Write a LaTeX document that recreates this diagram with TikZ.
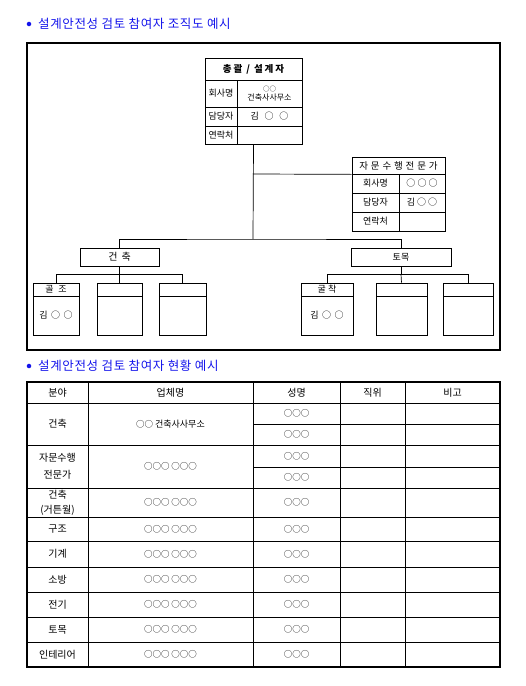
\documentclass[tikz,border=0pt]{standalone}
\usepackage{fontspec}
\setmainfont{Noto Sans CJK KR}
\usetikzlibrary{positioning,calc}
\definecolor{TitleBlue}{RGB}{20,20,235}
\newcommand{\spaced}[1]{\addfontfeature{LetterSpace=#1}}

\begin{document}
\begin{tikzpicture}[x=1pt,y=-1pt,
      font=\fontsize{9}{10}\selectfont,
      cellbox/.style={draw,line width=0.7pt,inner sep=0pt,align=center},
      txt/.style={inner sep=0pt,align=center,font=\fontsize{10}{17}\selectfont},
      circ/.style={inner sep=0pt,font=\fontsize{8.5}{10}\selectfont},
      title/.style={anchor=west,inner sep=0pt,text=TitleBlue,font=\fontsize{12.5}{14}\selectfont\spaced{5}},
      link/.style={line width=0.7pt}
    ]
      \useasboundingbox (0,0) rectangle (526,686);

      % --- organisation chart
      \node[circle,fill=TitleBlue,inner sep=1.6pt] (dot1) at (29,24) {};
      \node[title] (title1) at (38,24) {설계안전성\ 검토\ 참여자\ 조직도\ 예시};
      \draw[line width=1.1pt] (27,43) rectangle (500,350);

      \node[cellbox,minimum width=97pt,minimum height=22pt,font=\fontsize{9.5}{10}\selectfont\bfseries\spaced{20}] (hd) at (253.5,69) {총괄 / 설계자};
      \node[cellbox,minimum width=32pt,minimum height=27pt] (firm) at (221,93.5) {회사명};
      \node[cellbox,minimum width=65pt,minimum height=27pt,font=\fontsize{8}{8.5}\selectfont] (firmv) at (269.5,93.5) {{\fontsize{6.5}{7}\selectfont ○○}\\건축사사무소};
      \node[cellbox,minimum width=32pt,minimum height=19pt] (mgr) at (221,116.5) {담당자};
      \node[cellbox,minimum width=65pt,minimum height=19pt,font=\fontsize{9}{10}\selectfont\spaced{40}] (mgrv) at (269.5,116.5) {김 ○ ○};
      \node[cellbox,minimum width=32pt,minimum height=18pt] (tel) at (221,135) {연락처};
      \node[cellbox,minimum width=65pt,minimum height=18pt] (telv) at (269.5,135) {};

      \node[cellbox,minimum width=93pt,minimum height=17pt,font=\fontsize{9.5}{10}\selectfont\spaced{30}] (adv) at (398.5,165.5) {자문수행전문가};
      \node[cellbox,minimum width=47pt,minimum height=19pt] (advfirm) at (375.5,183.5) {회사명};
      \node[cellbox,minimum width=46pt,minimum height=19pt] (advfirmv) at (422,183.5) {○ ○ ○};
      \node[cellbox,minimum width=47pt,minimum height=19pt] (advmgr) at (375.5,202.5) {담당자};
      \node[cellbox,minimum width=46pt,minimum height=19pt] (advmgrv) at (422,202.5) {김 ○ ○};
      \node[cellbox,minimum width=47pt,minimum height=19pt] (advtel) at (375.5,221.5) {연락처};
      \node[cellbox,minimum width=46pt,minimum height=19pt] (advtelv) at (422,221.5) {};

      \node[cellbox,minimum width=79pt,minimum height=18pt,font=\fontsize{10}{10}\selectfont\spaced{40}] (arch) at (119.5,257) {건축};
      \node[cellbox,minimum width=100pt,minimum height=18pt] (civ) at (401,257) {토목};

      \node[cellbox,minimum width=46pt,minimum height=13pt,font=\fontsize{9}{10}\selectfont\spaced{30}] (st) at (56,289.5) {골 조};
      \node[cellbox,minimum width=46pt,minimum height=39pt,font=\fontsize{9}{10}\selectfont\spaced{15}] (stb) at (56,315.5) {김 ○ ○};
      \node[cellbox,minimum width=45pt,minimum height=13pt] (ar2) at (119.5,289.5) {};
      \node[cellbox,minimum width=45pt,minimum height=39pt] (ar2b) at (119.5,315.5) {};
      \node[cellbox,minimum width=47pt,minimum height=13pt] (ar3) at (182.5,289.5) {};
      \node[cellbox,minimum width=47pt,minimum height=39pt] (ar3b) at (182.5,315.5) {};

      \node[cellbox,minimum width=52pt,minimum height=13pt] (ex) at (327,289.5) {굴 착};
      \node[cellbox,minimum width=52pt,minimum height=39pt,font=\fontsize{9}{10}\selectfont\spaced{15}] (exb) at (327,315.5) {김 ○ ○};
      \node[cellbox,minimum width=51pt,minimum height=13pt] (cv2) at (401.5,289.5) {};
      \node[cellbox,minimum width=51pt,minimum height=39pt] (cv2b) at (401.5,315.5) {};
      \node[cellbox,minimum width=50pt,minimum height=13pt] (cv3) at (468,289.5) {};
      \node[cellbox,minimum width=50pt,minimum height=39pt] (cv3b) at (468,315.5) {};

      \coordinate (j1) at (253,239);
      \coordinate (j2) at (253,174);
      \draw[link] (telv.south -| hd.south) -- (j1);
      \draw[link] (j2) -- (adv.south west);
      \draw[link] (arch.north) |- (j1) -| (civ.north);
      \path (arch.south) ++(0,8) coordinate (a1);
      \path (civ.south) ++(0,8) coordinate (c1);
      \draw[link] (arch.south) -- (a1);
      \draw[link] (st.north) |- (a1) -| (ar3.north);
      \draw[link] (a1) -- (ar2.north);
      \draw[link] (civ.south) -- (c1);
      \draw[link] (ex.north) |- (c1) -| (cv3.north);
      \draw[link] (c1) -- (cv2.north);

      % --- participant table
      \node[circle,fill=TitleBlue,inner sep=1.6pt] (dot2) at (29,366) {};
      \node[title] (title2) at (38,366) {설계안전성\ 검토\ 참여자\ 현황\ 예시};

      \foreach \y in {403,445,488,517,541,567,592,617,642}
        \draw[line width=0.6pt] (27,\y) -- (500,\y);
      \foreach \y in {424,467}
        \draw[line width=0.6pt] (253,\y) -- (500,\y);
      \foreach \x in {88,253,340,405}
        \draw[line width=0.6pt] (\x,382) -- (\x,667);
      \draw[line width=1.2pt] (27,382) rectangle (500,667);

      \node[txt] (h1) at (57.5,392.5) {분야};
      \node[txt] (h2) at (170.5,392.5) {업체명};
      \node[txt] (h3) at (296.5,392.5) {성명};
      \node[txt] (h4) at (372.5,392.5) {직위};
      \node[txt] (h5) at (452.5,392.5) {비고};

      \node[txt] (f1) at (57.5,424) {건축};
      \node[circ] (c1t) at (170.5,424) {○○ {\fontsize{9}{10}\selectfont 건축사사무소}};
      \node[circ] (n1) at (296.5,413.5) {○○○};
      \node[circ] (n2) at (296.5,434.5) {○○○};

      \node[txt] (f2) at (57.5,466.5) {자문수행\\전문가};
      \node[circ] (c2t) at (170.5,466.5) {○○○ ○○○};
      \node[circ] (n3) at (296.5,456) {○○○};
      \node[circ] (n4) at (296.5,477.5) {○○○};

      \node[txt,font=\fontsize{10}{15}\selectfont] (f3) at (57.5,502.5) {건축\\(거튼월)};
      \node[circ] (c3t) at (170.5,502.5) {○○○ ○○○};
      \node[circ] (n5) at (296.5,502.5) {○○○};

      \foreach \y/\f in {529/구조,554/기계,579.5/소방,604.5/전기,629.5/토목,654.5/인테리어} {
        \node[txt] (f\y) at (57.5,\y) {\f};
        \node[circ] (c\y) at (170.5,\y) {○○○ ○○○};
        \node[circ] (n\y) at (296.5,\y) {○○○};
      }
    \end{tikzpicture}
\end{document}
